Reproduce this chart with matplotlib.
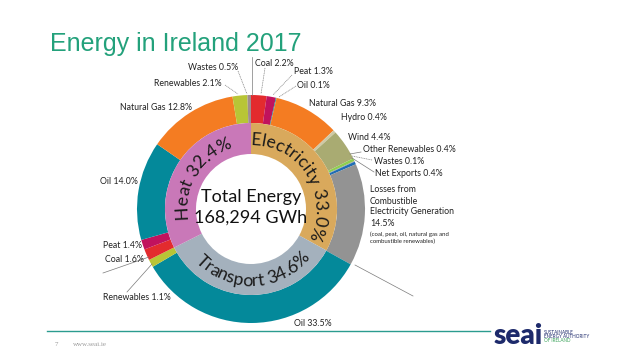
import numpy as np
import matplotlib
matplotlib.use("Agg")
import matplotlib.pyplot as plt
from matplotlib.textpath import TextToPath
from matplotlib.font_manager import FontProperties

# ---------------- data ----------------
inner_labels = ["Electricity", "Transport", "Heat"]
inner_values = [33.0, 34.6, 32.4]
inner_colors = ["#d9a95c", "#a4b1bd", "#c978b8"]

outer_labels = ["Coal", "Peat", "Oil", "Natural Gas", "Hydro", "Wind",
                "Other Renewables", "Wastes", "Net Exports", "Losses",
                "Oil", "Renewables",
                "Coal", "Peat", "Oil", "Natural Gas", "Renewables", "Wastes"]
outer_values = [2.2, 1.3, 0.1, 9.3, 0.4, 4.4, 0.4, 0.1, 0.4, 14.5,
                33.5, 1.1,
                1.6, 1.4, 14.0, 12.8, 2.1, 0.5]
outer_colors = ["#e32b2e", "#c1125d", "#00899a", "#f47c22", "#cfc9a6", "#a9ab72",
                "#8fce4f", "#9c9c9c", "#1f6db4", "#939393",
                "#04899a", "#b8c536",
                "#e32b2e", "#c1125d", "#04899a", "#f47c22", "#b8c536", "#a08e8e"]

total_text = ["Total Energy", "168,294 GWh"]

W, H = 638, 359
fig = plt.figure(figsize=(W / 100, H / 100), dpi=100)
ax = fig.add_axes([0, 0, 1, 1])

cx, cy = 251, H - 209

ax.pie(outer_values, radius=114, center=(cx, cy), startangle=90, counterclock=False,
       colors=outer_colors, wedgeprops=dict(width=28, linewidth=0))
ax.pie(inner_values, radius=86, center=(cx, cy), startangle=90, counterclock=False,
       colors=inner_colors, wedgeprops=dict(width=31, linewidth=0))
ax.set_xlim(0, W)
ax.set_ylim(0, H)
ax.set_aspect("equal")
ax.axis("off")

FONT = "Lato"
t2p = TextToPath()


def wpx(s, fp):
    w, h, d = t2p.get_text_width_height_descent(s, fp, ismath=False)
    return w * 100 / 72


def curved(text, mid_deg, r_mid, size, tops_out=True, color="#1a1a1a"):
    fp = FontProperties(family=FONT, size=size)
    capw = wpx("x", fp)
    cum = [wpx(text[:i] + "x", fp) - capw for i in range(len(text) + 1)]
    total = cum[-1]
    cap_h = size * 100 / 72 * 0.72
    for i, ch in enumerate(text):
        s = (cum[i] + cum[i + 1]) / 2 - total / 2
        if tops_out:
            r = r_mid - cap_h / 2
            ang = mid_deg - np.degrees(s / r)
            rot = ang - 90
        else:
            r = r_mid + cap_h / 2
            ang = mid_deg + np.degrees(s / r)
            rot = ang + 90
        x = cx + r * np.cos(np.radians(ang))
        y = cy + r * np.sin(np.radians(ang))
        ax.text(x, y, ch, fontproperties=fp, color=color, rotation=rot,
                rotation_mode="anchor", ha="center", va="baseline")


ring_texts = [f"{inner_labels[0]} {inner_values[0]:.1f}%",
              f"{inner_labels[1]} {inner_values[1]:.1f}%",
              f"{inner_labels[2]} {inner_values[2]:.1f}%"]
curved(ring_texts[0], 32, 70.5, 12.8, tops_out=True)
curved(ring_texts[1], 272, 70.5, 12.8, tops_out=False)
curved(ring_texts[2], 148, 70.5, 12.8, tops_out=True)

ax.text(cx, H - 197, total_text[0], family=FONT, fontsize=13, ha="center", va="center", color="#111111")
ax.text(cx, H - 218, total_text[1], family=FONT, fontsize=13, ha="center", va="center", color="#111111")

# ---------------- labels ----------------
LS = 6.3
lab_col = "#222222"


def lab(x, y, s, ha="left", size=LS):
    ax.text(x, H - y, s, family=FONT, fontsize=size, ha=ha, va="center", color=lab_col)


def pct(i):
    return f"{outer_labels[i]} {outer_values[i]:.1f}%"


lab(238, 68, pct(17), "right")
lab(222, 83, pct(16), "right")
lab(192, 107, pct(15), "right")
lab(138, 181, pct(14), "right")
lab(142, 246, pct(13), "right")
lab(144, 259, pct(12), "right")
lab(103, 297, pct(11), "left")
lab(313, 323, pct(10), "center")

lab(255, 63, pct(0))
lab(294, 72, pct(1))
lab(297, 85, pct(2))
lab(309, 103, pct(3))
lab(341, 117, pct(4))
lab(348, 137, pct(5))
lab(363, 150, pct(6))
lab(374, 161, pct(7))
lab(375, 173, pct(8))
lab(370, 189, "Losses from")
lab(370, 201, "Combustible")
lab(370, 212, "Electricity Generation")
lab(370, 223, f"{outer_values[9]:.1f}%")
lab(370, 234, "(coal, peat, oil, natural gas and", size=4.3)
lab(370, 241, "combustible renewables)", size=4.3)

# leader lines
lc = "#7a7a7a"


def line(x0, y0, x1, y1, ls="-"):
    ax.plot([x0, x1], [H - y0, H - y1], color=lc, lw=0.5, ls=ls)


dot = (0, (1.5, 1))
line(225, 85, 238, 94, dot)
line(238, 71, 247, 94, dot)
line(252, 57, 252, 95)
line(265, 68, 261, 94, dot)
line(292, 75, 273, 95, dot)
line(296, 86, 279, 97, dot)
line(361, 152, 350, 154)
line(372, 160, 352, 156, dot)
line(374, 172, 352, 158)
line(355, 265, 413, 296)
line(103, 273, 149, 257)
line(127, 292, 152, 264)

# ---------------- title & footer ----------------
ax.text(50, H - 44, "Energy in Ireland 2017", family="Liberation Sans", fontsize=18,
        color="#23a17b", ha="left", va="center")
ax.plot([47, 490], [H - 331, H - 331], color="#2b9c8f", lw=1.0)
ax.text(55, H - 344, "7", family="Liberation Serif", fontsize=5, color="#9a9a9a", va="center")
ax.text(73, H - 344, "www.seai.ie", family="Liberation Serif", fontsize=5, color="#9a9a9a", va="center")

ax.text(494, H - 336, "seai", family=FONT, fontweight="heavy", fontsize=20, color="#1d2a6b",
        ha="left", va="center")
ax.text(544, H - 332, "SUSTAINABLE", family=FONT, fontsize=3.3, color="#1d2a6b", va="center")
ax.text(544, H - 336, "ENERGY AUTHORITY", family=FONT, fontsize=3.3, color="#1d2a6b", va="center")
ax.text(544, H - 340, "OF IRELAND", family=FONT, fontsize=3.3, color="#3aa35a", va="center")

fig.savefig("out.png", dpi=100)
